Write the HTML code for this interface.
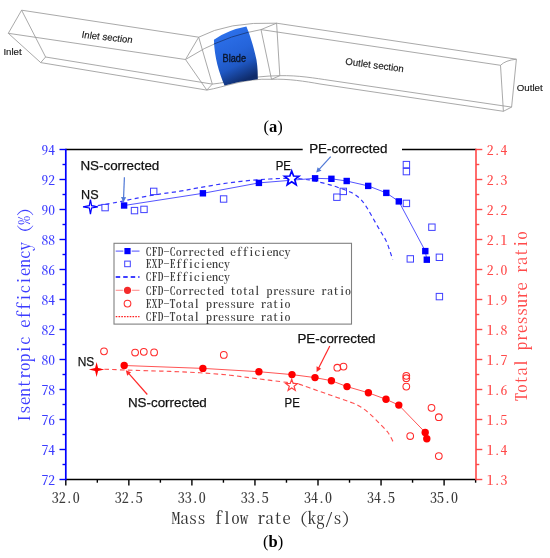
<!DOCTYPE html>
<html><head><meta charset="utf-8"><title>Figure</title>
<style>html,body{margin:0;padding:0;background:#fff;width:550px;height:558px;overflow:hidden}svg{display:block}</style>
</head><body>
<svg width="550" height="558" viewBox="0 0 550 558">
<rect width="550" height="558" fill="#fff"/>
<path d="M21.6,10.2 L8.3,33.3 M8.3,33.3 L40.7,62.6 M40.7,62.6 L45.6,57 M21.6,10.2 L45.6,57 M21.6,10.2 L198.7,37.2 M8.3,33.3 L185.5,59.5 M45.6,57 L212.3,84.1 M40.7,62.6 L206.8,90.1 M198.7,37.2 L185.5,59.5 M185.5,59.5 L206.8,90.1 M198.7,37.2 L212.3,84.1 M206.8,90.1 L212.3,84.1 M276.6,23.2 L261,29.6 M261,29.6 L271.5,79.3 M276.6,23.2 L279.8,75.7 M271.5,79.3 L279.8,75.7 M276.6,23.2 L516.4,59.2 M261,29.6 L500.5,65.3 M279.8,75.7 C298,75.2 315,78.2 330,80.4 L511.6,107.1 M271.5,79.3 C288,78.6 305,81.3 320,84 L503.4,111.3 M500.5,65.3 L503.4,111.3 M516.4,59.2 L511.6,107.1 M503.4,111.3 L511.6,107.1 M500.5,65.3 Q505.5,60.3 516.4,59.2 M198.7,37.2 Q228,21.5 276.6,23.2 M185.5,59.5 Q222.8,35.6 261,29.6 M206.8,90.1 C225,87 245,78 271.5,79.3 M212.3,84.1 C232,82 250,76 279.8,75.7" fill="none" stroke="#9a9a9a" stroke-width="0.85"/>
<defs><linearGradient id="bg" x1="0.1" y1="0" x2="0.45" y2="1"><stop offset="0" stop-color="#2f74f0"/><stop offset="0.5" stop-color="#2564da"/><stop offset="0.72" stop-color="#1f58c4"/><stop offset="1" stop-color="#0f2c6c"/></linearGradient></defs>
<path d="M213.9,39.7 Q228,30 246.4,26.6 C250,35 254,48 256.5,60 C257.8,68 257.8,74 257.8,79.3 Q240,81 224.5,85.4 C219,72 214.5,58 213.9,39.7Z" fill="url(#bg)"/>
<path d="M213.9,44 Q232,36 248.5,32.2" fill="none" stroke="#1a3c80" stroke-width="0.9"/>
<text x="234.3" y="61.6" font-family="Liberation Sans, sans-serif" font-size="10.2" text-anchor="middle" fill="#0a1428" stroke="#0a1428" stroke-width="0.35" textLength="23.4" lengthAdjust="spacingAndGlyphs">Blade</text>
<text x="3.4" y="54.9" font-family="Liberation Sans, sans-serif" font-size="9.7" fill="#1a1a1a" stroke="#1a1a1a" stroke-width="0.15">Inlet</text>
<text x="516.8" y="91.1" font-family="Liberation Sans, sans-serif" font-size="9.7" fill="#1a1a1a" stroke="#1a1a1a" stroke-width="0.15">Outlet</text>
<text transform="translate(81.2,37.6) rotate(6.2) skewX(-4)" font-family="Liberation Sans, sans-serif" font-size="9.6" fill="#1a1a1a" stroke="#1a1a1a" stroke-width="0.15">Inlet section</text>
<text transform="translate(345.0,64.6) rotate(7.3)" font-family="Liberation Sans, sans-serif" font-size="9.65" fill="#1a1a1a" stroke="#1a1a1a" stroke-width="0.15">Outlet section</text>
<text x="273" y="132.4" font-family="Liberation Serif, serif" font-size="16.5" text-anchor="middle" fill="#000">(<tspan font-weight="bold">a</tspan>)</text>
<text x="273.1" y="547" font-family="Liberation Serif, serif" font-size="16.5" text-anchor="middle" fill="#000">(<tspan font-weight="bold">b</tspan>)</text>
<line x1="65.8" y1="149.5" x2="302.7" y2="149.5" stroke="#000" stroke-width="1.5"/>
<line x1="402" y1="149.5" x2="476" y2="149.5" stroke="#000" stroke-width="1.5"/>
<line x1="65" y1="479.5" x2="476" y2="479.5" stroke="#000" stroke-width="1.6"/>
<line x1="65.8" y1="479.5" x2="65.8" y2="485.5" stroke="#000" stroke-width="1.4"/>
<text x="65.7" y="503.3" font-family="'Noto Serif CJK SC', serif" style="font-feature-settings:'hwid' 1,'liga' 0" font-size="14" font-weight="500" text-anchor="middle" fill="#3a3a3a">32.0</text>
<line x1="128.85" y1="479.5" x2="128.85" y2="485.5" stroke="#000" stroke-width="1.4"/>
<text x="128.75" y="503.3" font-family="'Noto Serif CJK SC', serif" style="font-feature-settings:'hwid' 1,'liga' 0" font-size="14" font-weight="500" text-anchor="middle" fill="#3a3a3a">32.5</text>
<line x1="191.9" y1="479.5" x2="191.9" y2="485.5" stroke="#000" stroke-width="1.4"/>
<text x="191.8" y="503.3" font-family="'Noto Serif CJK SC', serif" style="font-feature-settings:'hwid' 1,'liga' 0" font-size="14" font-weight="500" text-anchor="middle" fill="#3a3a3a">33.0</text>
<line x1="254.95" y1="479.5" x2="254.95" y2="485.5" stroke="#000" stroke-width="1.4"/>
<text x="254.85" y="503.3" font-family="'Noto Serif CJK SC', serif" style="font-feature-settings:'hwid' 1,'liga' 0" font-size="14" font-weight="500" text-anchor="middle" fill="#3a3a3a">33.5</text>
<line x1="318" y1="479.5" x2="318" y2="485.5" stroke="#000" stroke-width="1.4"/>
<text x="317.9" y="503.3" font-family="'Noto Serif CJK SC', serif" style="font-feature-settings:'hwid' 1,'liga' 0" font-size="14" font-weight="500" text-anchor="middle" fill="#3a3a3a">34.0</text>
<line x1="381.05" y1="479.5" x2="381.05" y2="485.5" stroke="#000" stroke-width="1.4"/>
<text x="380.95" y="503.3" font-family="'Noto Serif CJK SC', serif" style="font-feature-settings:'hwid' 1,'liga' 0" font-size="14" font-weight="500" text-anchor="middle" fill="#3a3a3a">34.5</text>
<line x1="444.1" y1="479.5" x2="444.1" y2="485.5" stroke="#000" stroke-width="1.4"/>
<text x="444" y="503.3" font-family="'Noto Serif CJK SC', serif" style="font-feature-settings:'hwid' 1,'liga' 0" font-size="14" font-weight="500" text-anchor="middle" fill="#3a3a3a">35.0</text>
<line x1="97.32" y1="479.5" x2="97.32" y2="482.7" stroke="#000" stroke-width="1.4"/>
<line x1="160.38" y1="479.5" x2="160.38" y2="482.7" stroke="#000" stroke-width="1.4"/>
<line x1="223.43" y1="479.5" x2="223.43" y2="482.7" stroke="#000" stroke-width="1.4"/>
<line x1="286.47" y1="479.5" x2="286.47" y2="482.7" stroke="#000" stroke-width="1.4"/>
<line x1="349.52" y1="479.5" x2="349.52" y2="482.7" stroke="#000" stroke-width="1.4"/>
<line x1="412.57" y1="479.5" x2="412.57" y2="482.7" stroke="#000" stroke-width="1.4"/>
<line x1="475.62" y1="479.5" x2="475.62" y2="482.7" stroke="#000" stroke-width="1.4"/>
<line x1="65.8" y1="148.7" x2="65.8" y2="480.3" stroke="#0000ff" stroke-width="1.7"/>
<line x1="59.5" y1="149.5" x2="65.8" y2="149.5" stroke="#0000ff" stroke-width="1.4"/>
<text x="55" y="155.1" font-family="'Noto Serif CJK SC', serif" style="font-feature-settings:'hwid' 1,'liga' 0" font-size="12.3" font-weight="500" text-anchor="end" fill="#3c3cff" textLength="13.6" lengthAdjust="spacingAndGlyphs">94</text>
<line x1="62.5" y1="164.5" x2="65.8" y2="164.5" stroke="#0000ff" stroke-width="1.4"/>
<line x1="59.5" y1="179.5" x2="65.8" y2="179.5" stroke="#0000ff" stroke-width="1.4"/>
<text x="55" y="185.1" font-family="'Noto Serif CJK SC', serif" style="font-feature-settings:'hwid' 1,'liga' 0" font-size="12.3" font-weight="500" text-anchor="end" fill="#3c3cff" textLength="13.6" lengthAdjust="spacingAndGlyphs">92</text>
<line x1="62.5" y1="194.5" x2="65.8" y2="194.5" stroke="#0000ff" stroke-width="1.4"/>
<line x1="59.5" y1="209.5" x2="65.8" y2="209.5" stroke="#0000ff" stroke-width="1.4"/>
<text x="55" y="215.1" font-family="'Noto Serif CJK SC', serif" style="font-feature-settings:'hwid' 1,'liga' 0" font-size="12.3" font-weight="500" text-anchor="end" fill="#3c3cff" textLength="13.6" lengthAdjust="spacingAndGlyphs">90</text>
<line x1="62.5" y1="224.5" x2="65.8" y2="224.5" stroke="#0000ff" stroke-width="1.4"/>
<line x1="59.5" y1="239.5" x2="65.8" y2="239.5" stroke="#0000ff" stroke-width="1.4"/>
<text x="55" y="245.1" font-family="'Noto Serif CJK SC', serif" style="font-feature-settings:'hwid' 1,'liga' 0" font-size="12.3" font-weight="500" text-anchor="end" fill="#3c3cff" textLength="13.6" lengthAdjust="spacingAndGlyphs">88</text>
<line x1="62.5" y1="254.5" x2="65.8" y2="254.5" stroke="#0000ff" stroke-width="1.4"/>
<line x1="59.5" y1="269.5" x2="65.8" y2="269.5" stroke="#0000ff" stroke-width="1.4"/>
<text x="55" y="275.1" font-family="'Noto Serif CJK SC', serif" style="font-feature-settings:'hwid' 1,'liga' 0" font-size="12.3" font-weight="500" text-anchor="end" fill="#3c3cff" textLength="13.6" lengthAdjust="spacingAndGlyphs">86</text>
<line x1="62.5" y1="284.5" x2="65.8" y2="284.5" stroke="#0000ff" stroke-width="1.4"/>
<line x1="59.5" y1="299.5" x2="65.8" y2="299.5" stroke="#0000ff" stroke-width="1.4"/>
<text x="55" y="305.1" font-family="'Noto Serif CJK SC', serif" style="font-feature-settings:'hwid' 1,'liga' 0" font-size="12.3" font-weight="500" text-anchor="end" fill="#3c3cff" textLength="13.6" lengthAdjust="spacingAndGlyphs">84</text>
<line x1="62.5" y1="314.5" x2="65.8" y2="314.5" stroke="#0000ff" stroke-width="1.4"/>
<line x1="59.5" y1="329.5" x2="65.8" y2="329.5" stroke="#0000ff" stroke-width="1.4"/>
<text x="55" y="335.1" font-family="'Noto Serif CJK SC', serif" style="font-feature-settings:'hwid' 1,'liga' 0" font-size="12.3" font-weight="500" text-anchor="end" fill="#3c3cff" textLength="13.6" lengthAdjust="spacingAndGlyphs">82</text>
<line x1="62.5" y1="344.5" x2="65.8" y2="344.5" stroke="#0000ff" stroke-width="1.4"/>
<line x1="59.5" y1="359.5" x2="65.8" y2="359.5" stroke="#0000ff" stroke-width="1.4"/>
<text x="55" y="365.1" font-family="'Noto Serif CJK SC', serif" style="font-feature-settings:'hwid' 1,'liga' 0" font-size="12.3" font-weight="500" text-anchor="end" fill="#3c3cff" textLength="13.6" lengthAdjust="spacingAndGlyphs">80</text>
<line x1="62.5" y1="374.5" x2="65.8" y2="374.5" stroke="#0000ff" stroke-width="1.4"/>
<line x1="59.5" y1="389.5" x2="65.8" y2="389.5" stroke="#0000ff" stroke-width="1.4"/>
<text x="55" y="395.1" font-family="'Noto Serif CJK SC', serif" style="font-feature-settings:'hwid' 1,'liga' 0" font-size="12.3" font-weight="500" text-anchor="end" fill="#3c3cff" textLength="13.6" lengthAdjust="spacingAndGlyphs">78</text>
<line x1="62.5" y1="404.5" x2="65.8" y2="404.5" stroke="#0000ff" stroke-width="1.4"/>
<line x1="59.5" y1="419.5" x2="65.8" y2="419.5" stroke="#0000ff" stroke-width="1.4"/>
<text x="55" y="425.1" font-family="'Noto Serif CJK SC', serif" style="font-feature-settings:'hwid' 1,'liga' 0" font-size="12.3" font-weight="500" text-anchor="end" fill="#3c3cff" textLength="13.6" lengthAdjust="spacingAndGlyphs">76</text>
<line x1="62.5" y1="434.5" x2="65.8" y2="434.5" stroke="#0000ff" stroke-width="1.4"/>
<line x1="59.5" y1="449.5" x2="65.8" y2="449.5" stroke="#0000ff" stroke-width="1.4"/>
<text x="55" y="455.1" font-family="'Noto Serif CJK SC', serif" style="font-feature-settings:'hwid' 1,'liga' 0" font-size="12.3" font-weight="500" text-anchor="end" fill="#3c3cff" textLength="13.6" lengthAdjust="spacingAndGlyphs">74</text>
<line x1="62.5" y1="464.5" x2="65.8" y2="464.5" stroke="#0000ff" stroke-width="1.4"/>
<line x1="59.5" y1="479.5" x2="65.8" y2="479.5" stroke="#0000ff" stroke-width="1.4"/>
<text x="55" y="485.1" font-family="'Noto Serif CJK SC', serif" style="font-feature-settings:'hwid' 1,'liga' 0" font-size="12.3" font-weight="500" text-anchor="end" fill="#3c3cff" textLength="13.6" lengthAdjust="spacingAndGlyphs">72</text>
<line x1="476" y1="148.7" x2="476" y2="480.3" stroke="#ff4848" stroke-width="1.6"/>
<line x1="476" y1="149.5" x2="482.3" y2="149.5" stroke="#ff4848" stroke-width="1.4"/>
<text x="486.8" y="155.4" font-family="'Noto Serif CJK SC', serif" style="font-feature-settings:'hwid' 1,'liga' 0" font-size="12.8" font-weight="500" fill="#ff4a4a" textLength="20.6" lengthAdjust="spacingAndGlyphs">2.4</text>
<line x1="476" y1="164.5" x2="479.3" y2="164.5" stroke="#ff4848" stroke-width="1.4"/>
<line x1="476" y1="179.5" x2="482.3" y2="179.5" stroke="#ff4848" stroke-width="1.4"/>
<text x="486.8" y="185.4" font-family="'Noto Serif CJK SC', serif" style="font-feature-settings:'hwid' 1,'liga' 0" font-size="12.8" font-weight="500" fill="#ff4a4a" textLength="20.6" lengthAdjust="spacingAndGlyphs">2.3</text>
<line x1="476" y1="194.5" x2="479.3" y2="194.5" stroke="#ff4848" stroke-width="1.4"/>
<line x1="476" y1="209.5" x2="482.3" y2="209.5" stroke="#ff4848" stroke-width="1.4"/>
<text x="486.8" y="215.4" font-family="'Noto Serif CJK SC', serif" style="font-feature-settings:'hwid' 1,'liga' 0" font-size="12.8" font-weight="500" fill="#ff4a4a" textLength="20.6" lengthAdjust="spacingAndGlyphs">2.2</text>
<line x1="476" y1="224.5" x2="479.3" y2="224.5" stroke="#ff4848" stroke-width="1.4"/>
<line x1="476" y1="239.5" x2="482.3" y2="239.5" stroke="#ff4848" stroke-width="1.4"/>
<text x="486.8" y="245.4" font-family="'Noto Serif CJK SC', serif" style="font-feature-settings:'hwid' 1,'liga' 0" font-size="12.8" font-weight="500" fill="#ff4a4a" textLength="20.6" lengthAdjust="spacingAndGlyphs">2.1</text>
<line x1="476" y1="254.5" x2="479.3" y2="254.5" stroke="#ff4848" stroke-width="1.4"/>
<line x1="476" y1="269.5" x2="482.3" y2="269.5" stroke="#ff4848" stroke-width="1.4"/>
<text x="486.8" y="275.4" font-family="'Noto Serif CJK SC', serif" style="font-feature-settings:'hwid' 1,'liga' 0" font-size="12.8" font-weight="500" fill="#ff4a4a" textLength="20.6" lengthAdjust="spacingAndGlyphs">2.0</text>
<line x1="476" y1="284.5" x2="479.3" y2="284.5" stroke="#ff4848" stroke-width="1.4"/>
<line x1="476" y1="299.5" x2="482.3" y2="299.5" stroke="#ff4848" stroke-width="1.4"/>
<text x="486.8" y="305.4" font-family="'Noto Serif CJK SC', serif" style="font-feature-settings:'hwid' 1,'liga' 0" font-size="12.8" font-weight="500" fill="#ff4a4a" textLength="20.6" lengthAdjust="spacingAndGlyphs">1.9</text>
<line x1="476" y1="314.5" x2="479.3" y2="314.5" stroke="#ff4848" stroke-width="1.4"/>
<line x1="476" y1="329.5" x2="482.3" y2="329.5" stroke="#ff4848" stroke-width="1.4"/>
<text x="486.8" y="335.4" font-family="'Noto Serif CJK SC', serif" style="font-feature-settings:'hwid' 1,'liga' 0" font-size="12.8" font-weight="500" fill="#ff4a4a" textLength="20.6" lengthAdjust="spacingAndGlyphs">1.8</text>
<line x1="476" y1="344.5" x2="479.3" y2="344.5" stroke="#ff4848" stroke-width="1.4"/>
<line x1="476" y1="359.5" x2="482.3" y2="359.5" stroke="#ff4848" stroke-width="1.4"/>
<text x="486.8" y="365.4" font-family="'Noto Serif CJK SC', serif" style="font-feature-settings:'hwid' 1,'liga' 0" font-size="12.8" font-weight="500" fill="#ff4a4a" textLength="20.6" lengthAdjust="spacingAndGlyphs">1.7</text>
<line x1="476" y1="374.5" x2="479.3" y2="374.5" stroke="#ff4848" stroke-width="1.4"/>
<line x1="476" y1="389.5" x2="482.3" y2="389.5" stroke="#ff4848" stroke-width="1.4"/>
<text x="486.8" y="395.4" font-family="'Noto Serif CJK SC', serif" style="font-feature-settings:'hwid' 1,'liga' 0" font-size="12.8" font-weight="500" fill="#ff4a4a" textLength="20.6" lengthAdjust="spacingAndGlyphs">1.6</text>
<line x1="476" y1="404.5" x2="479.3" y2="404.5" stroke="#ff4848" stroke-width="1.4"/>
<line x1="476" y1="419.5" x2="482.3" y2="419.5" stroke="#ff4848" stroke-width="1.4"/>
<text x="486.8" y="425.4" font-family="'Noto Serif CJK SC', serif" style="font-feature-settings:'hwid' 1,'liga' 0" font-size="12.8" font-weight="500" fill="#ff4a4a" textLength="20.6" lengthAdjust="spacingAndGlyphs">1.5</text>
<line x1="476" y1="434.5" x2="479.3" y2="434.5" stroke="#ff4848" stroke-width="1.4"/>
<line x1="476" y1="449.5" x2="482.3" y2="449.5" stroke="#ff4848" stroke-width="1.4"/>
<text x="486.8" y="455.4" font-family="'Noto Serif CJK SC', serif" style="font-feature-settings:'hwid' 1,'liga' 0" font-size="12.8" font-weight="500" fill="#ff4a4a" textLength="20.6" lengthAdjust="spacingAndGlyphs">1.4</text>
<line x1="476" y1="464.5" x2="479.3" y2="464.5" stroke="#ff4848" stroke-width="1.4"/>
<line x1="476" y1="479.5" x2="482.3" y2="479.5" stroke="#ff4848" stroke-width="1.4"/>
<text x="486.8" y="485.4" font-family="'Noto Serif CJK SC', serif" style="font-feature-settings:'hwid' 1,'liga' 0" font-size="12.8" font-weight="500" fill="#ff4a4a" textLength="20.6" lengthAdjust="spacingAndGlyphs">1.3</text>
<text x="261" y="524.3" font-family="'Noto Serif CJK SC', serif" style="font-feature-settings:'hwid' 1,'liga' 0" font-size="15.6" text-anchor="middle" fill="#333" textLength="178.5" lengthAdjust="spacingAndGlyphs">Mass flow rate (kg/s)</text>
<text transform="translate(29.6,315) rotate(-90)" font-family="'Noto Serif CJK SC', serif" style="font-feature-settings:'hwid' 1,'liga' 0" font-size="15.6" text-anchor="middle" fill="#3c3cff" textLength="215" lengthAdjust="spacingAndGlyphs">Isentropic efficiency (%)</text>
<text transform="translate(527,316.2) rotate(-90)" font-family="'Noto Serif CJK SC', serif" style="font-feature-settings:'hwid' 1,'liga' 0" font-size="15.6" text-anchor="middle" fill="#ff4a4a" textLength="170" lengthAdjust="spacingAndGlyphs">Total pressure ratio</text>
<path d="M90.5,206.8 C94.82,206.07 109.07,203.77 116.4,202.4 C123.73,201.03 127.53,199.95 134.5,198.6 C141.47,197.25 150.62,195.53 158.2,194.3 C165.78,193.07 173.27,192.28 180,191.2 C186.73,190.12 191.55,189.03 198.6,187.8 C205.65,186.57 214.42,184.97 222.3,183.8 C230.18,182.63 238.02,181.6 245.9,180.8 C253.78,180 261.97,179.42 269.6,179 C277.23,178.58 285.12,178.15 291.7,178.3 C298.28,178.45 304.68,179.32 309.1,179.9 C313.52,180.48 314.87,181.02 318.2,181.8 C321.53,182.58 325.77,183.65 329.1,184.6 C332.43,185.55 334.57,186.22 338.2,187.5 C341.83,188.78 347.27,190.45 350.9,192.3 C354.53,194.15 357.42,196.18 360,198.6 C362.58,201.02 364.28,203.62 366.4,206.8 C368.52,209.98 370.43,213.75 372.7,217.7 C374.97,221.65 377.72,226.55 380,230.5 C382.28,234.45 384.28,236.57 386.4,241.4 C388.52,246.23 391.65,256.48 392.7,259.5" fill="none" stroke="#3535ff" stroke-width="1.2" stroke-dasharray="4.2 3.3"/>
<path d="M124.1,205.5 L202.9,193.3 L258.9,182.9 L315.1,178.3 L331.4,178.8 L346.7,181 L368.2,185.9 L386.3,192.9 L398.8,201.4 L425.3,251.1 L426.8,259.7" fill="none" stroke="#5555ff" stroke-width="1"/>
<path d="M96.6,369.4 C97.92,369.38 97.27,369.12 104.5,369.3 C111.73,369.48 129.08,370.15 140,370.5 C150.92,370.85 160,371.02 170,371.4 C180,371.78 190,372.17 200,372.8 C210,373.43 220.6,374.23 230,375.2 C239.4,376.17 246.92,377.4 256.4,378.6 C265.88,379.8 279.97,381.5 286.9,382.4 C293.83,383.3 294.15,383.07 298,384 C301.85,384.93 304.67,386.17 310,388 C315.33,389.83 323.33,392.67 330,395 C336.67,397.33 345,400.1 350,402 C355,403.9 356.67,404.4 360,406.4 C363.33,408.4 366.67,411.07 370,414 C373.33,416.93 377,420.92 380,424 C383,427.08 385.83,429.58 388,432.5 C390.17,435.42 392.17,440 393,441.5" fill="none" stroke="#ff5050" stroke-width="1.15" stroke-dasharray="4.6 3.2"/>
<path d="M124.2,365.5 L202.9,368.4 L258.9,371.7 L292,374.6 L315,377.6 L331.4,380.7 L347,386.6 L368.4,392.8 L386,399.3 L398.8,405.1 L425.2,432.4 L426.8,438.8" fill="none" stroke="#ff5555" stroke-width="1"/>
<rect x="101.9" y="204.4" width="6.4" height="6.4" fill="none" stroke="#4040ff" stroke-width="1.0"/>
<rect x="131.3" y="207.4" width="6.4" height="6.4" fill="none" stroke="#4040ff" stroke-width="1.0"/>
<rect x="140.8" y="206.2" width="6.4" height="6.4" fill="none" stroke="#4040ff" stroke-width="1.0"/>
<rect x="150.5" y="188.2" width="6.4" height="6.4" fill="none" stroke="#4040ff" stroke-width="1.0"/>
<rect x="220.4" y="195.8" width="6.4" height="6.4" fill="none" stroke="#4040ff" stroke-width="1.0"/>
<rect x="333.7" y="194" width="6.4" height="6.4" fill="none" stroke="#4040ff" stroke-width="1.0"/>
<rect x="340.1" y="188.2" width="6.4" height="6.4" fill="none" stroke="#4040ff" stroke-width="1.0"/>
<rect x="403.2" y="161.4" width="6.4" height="6.4" fill="none" stroke="#4040ff" stroke-width="1.0"/>
<rect x="403.2" y="168.4" width="6.4" height="6.4" fill="none" stroke="#4040ff" stroke-width="1.0"/>
<rect x="403.2" y="200.2" width="6.4" height="6.4" fill="none" stroke="#4040ff" stroke-width="1.0"/>
<rect x="407.1" y="255.7" width="6.4" height="6.4" fill="none" stroke="#4040ff" stroke-width="1.0"/>
<rect x="428.7" y="224" width="6.4" height="6.4" fill="none" stroke="#4040ff" stroke-width="1.0"/>
<rect x="436.2" y="254.1" width="6.4" height="6.4" fill="none" stroke="#4040ff" stroke-width="1.0"/>
<rect x="436.2" y="293.4" width="6.4" height="6.4" fill="none" stroke="#4040ff" stroke-width="1.0"/>
<rect x="120.9" y="202.3" width="6.4" height="6.4" fill="#0000ff"/>
<rect x="199.7" y="190.1" width="6.4" height="6.4" fill="#0000ff"/>
<rect x="255.7" y="179.7" width="6.4" height="6.4" fill="#0000ff"/>
<rect x="311.9" y="175.1" width="6.4" height="6.4" fill="#0000ff"/>
<rect x="328.2" y="175.6" width="6.4" height="6.4" fill="#0000ff"/>
<rect x="343.5" y="177.8" width="6.4" height="6.4" fill="#0000ff"/>
<rect x="365" y="182.7" width="6.4" height="6.4" fill="#0000ff"/>
<rect x="383.1" y="189.7" width="6.4" height="6.4" fill="#0000ff"/>
<rect x="395.6" y="198.2" width="6.4" height="6.4" fill="#0000ff"/>
<rect x="422.1" y="247.9" width="6.4" height="6.4" fill="#0000ff"/>
<rect x="423.6" y="256.5" width="6.4" height="6.4" fill="#0000ff"/>
<circle cx="104" cy="351.3" r="3.35" fill="none" stroke="#ff2a2a" stroke-width="1.05"/>
<circle cx="135.1" cy="352.5" r="3.35" fill="none" stroke="#ff2a2a" stroke-width="1.05"/>
<circle cx="143.8" cy="351.8" r="3.35" fill="none" stroke="#ff2a2a" stroke-width="1.05"/>
<circle cx="154.1" cy="352.4" r="3.35" fill="none" stroke="#ff2a2a" stroke-width="1.05"/>
<circle cx="223.8" cy="354.9" r="3.35" fill="none" stroke="#ff2a2a" stroke-width="1.05"/>
<circle cx="337.3" cy="367.7" r="3.35" fill="none" stroke="#ff2a2a" stroke-width="1.05"/>
<circle cx="343.5" cy="366.6" r="3.35" fill="none" stroke="#ff2a2a" stroke-width="1.05"/>
<circle cx="406.3" cy="375.8" r="3.35" fill="none" stroke="#ff2a2a" stroke-width="1.05"/>
<circle cx="406.3" cy="378.2" r="3.35" fill="none" stroke="#ff2a2a" stroke-width="1.05"/>
<circle cx="406.3" cy="386.6" r="3.35" fill="none" stroke="#ff2a2a" stroke-width="1.05"/>
<circle cx="431.5" cy="407.8" r="3.35" fill="none" stroke="#ff2a2a" stroke-width="1.05"/>
<circle cx="438.8" cy="417.2" r="3.35" fill="none" stroke="#ff2a2a" stroke-width="1.05"/>
<circle cx="410.2" cy="436" r="3.35" fill="none" stroke="#ff2a2a" stroke-width="1.05"/>
<circle cx="438.8" cy="456.1" r="3.35" fill="none" stroke="#ff2a2a" stroke-width="1.05"/>
<circle cx="124.2" cy="365.5" r="3.7" fill="#ff0000"/>
<circle cx="202.9" cy="368.4" r="3.7" fill="#ff0000"/>
<circle cx="258.9" cy="371.7" r="3.7" fill="#ff0000"/>
<circle cx="292" cy="374.6" r="3.7" fill="#ff0000"/>
<circle cx="315" cy="377.6" r="3.7" fill="#ff0000"/>
<circle cx="331.4" cy="380.7" r="3.7" fill="#ff0000"/>
<circle cx="347" cy="386.6" r="3.7" fill="#ff0000"/>
<circle cx="368.4" cy="392.8" r="3.7" fill="#ff0000"/>
<circle cx="386" cy="399.3" r="3.7" fill="#ff0000"/>
<circle cx="398.8" cy="405.1" r="3.7" fill="#ff0000"/>
<circle cx="425.2" cy="432.4" r="3.7" fill="#ff0000"/>
<circle cx="426.8" cy="438.8" r="3.7" fill="#ff0000"/>
<path d="M90.45,199.5 L91.58,205.67 L97.85,206.8 L91.58,207.93 L90.45,214.1 L89.32,207.93 L83.05,206.8 L89.32,205.67Z" fill="#fff" stroke="#0000ff" stroke-width="1.25" stroke-linejoin="miter"/>
<path d="M291.7,171 L293.58,176.01 L298.93,176.25 L294.74,179.59 L296.17,184.75 L291.7,181.8 L287.23,184.75 L288.66,179.59 L284.47,176.25 L289.82,176.01Z" fill="#fff" stroke="#0000ff" stroke-width="1.7"/>
<path d="M96.6,361.9 L98.08,368.02 L104.4,369.5 L98.08,370.98 L96.6,377.1 L95.12,370.98 L88.8,369.5 L95.12,368.02Z" fill="#ff0000"/>
<path d="M291.7,379.3 L293.17,383.38 L297.5,383.51 L294.08,386.17 L295.29,390.34 L291.7,387.9 L288.11,390.34 L289.32,386.17 L285.9,383.51 L290.23,383.38Z" fill="#fff" stroke="#ff4040" stroke-width="1.2"/>
<text x="80.4" y="169.8" font-family="'Liberation Sans', sans-serif" font-size="13.4" fill="#111" stroke="#111" stroke-width="0.25">NS-corrected</text>
<text x="81.1" y="199" font-family="'Liberation Sans', sans-serif" font-size="13.4" fill="#111" stroke="#111" stroke-width="0.25" textLength="17.5" lengthAdjust="spacingAndGlyphs">NS</text>
<rect x="303.5" y="142" width="98" height="14" fill="#fff"/>
<text x="309.2" y="152.8" font-family="'Liberation Sans', sans-serif" font-size="13.4" fill="#111" stroke="#111" stroke-width="0.25">PE-corrected</text>
<text x="275.7" y="169.9" font-family="'Liberation Sans', sans-serif" font-size="13.4" fill="#111" stroke="#111" stroke-width="0.25" textLength="15.3" lengthAdjust="spacingAndGlyphs">PE</text>
<text x="77.7" y="365.6" font-family="'Liberation Sans', sans-serif" font-size="13.4" fill="#111" stroke="#111" stroke-width="0.25" textLength="16.6" lengthAdjust="spacingAndGlyphs">NS</text>
<text x="127.9" y="406.8" font-family="'Liberation Sans', sans-serif" font-size="13.4" fill="#111" stroke="#111" stroke-width="0.25">NS-corrected</text>
<text x="297.4" y="342.5" font-family="'Liberation Sans', sans-serif" font-size="13.4" fill="#111" stroke="#111" stroke-width="0.25">PE-corrected</text>
<text x="284.6" y="406.5" font-family="'Liberation Sans', sans-serif" font-size="13.4" fill="#111" stroke="#111" stroke-width="0.25" textLength="15.3" lengthAdjust="spacingAndGlyphs">PE</text>
<line x1="124.4" y1="177.2" x2="123.56" y2="198.2" stroke="#4f78d6" stroke-width="1.2"/>
<path d="M123.4,202.2 L121,197.1 L126.2,197.31 Z" fill="#4f78d6"/>
<line x1="330.7" y1="156.6" x2="318.89" y2="169.64" stroke="#4f78d6" stroke-width="1.2"/>
<path d="M316.2,172.6 L317.63,167.15 L321.48,170.64 Z" fill="#4f78d6"/>
<line x1="147.3" y1="394.5" x2="128.45" y2="373.2" stroke="#ff2a2a" stroke-width="1.2"/>
<path d="M125.8,370.2 L131.06,372.22 L127.17,375.67 Z" fill="#ff2a2a"/>
<line x1="329.8" y1="345.9" x2="318.41" y2="368.43" stroke="#ff2a2a" stroke-width="1.2"/>
<path d="M316.6,372 L316.54,366.36 L321.18,368.71 Z" fill="#ff2a2a"/>
<rect x="114" y="243.3" width="237.5" height="80.8" fill="#fff" stroke="#808080" stroke-width="1.1"/>
<line x1="115.7" y1="251.1" x2="123.3" y2="251.1" stroke="#4d4dff" stroke-width="1.0"/>
<line x1="131.7" y1="251.1" x2="139.5" y2="251.1" stroke="#4d4dff" stroke-width="1.0"/>
<rect x="124.4" y="248" width="6.2" height="6.2" fill="#0000ff"/>
<rect x="124.7" y="261.1" width="5.6" height="5.6" fill="none" stroke="#4040ff" stroke-width="1.0"/>
<line x1="115.7" y1="277" x2="139.5" y2="277" stroke="#0000ff" stroke-width="1.3" stroke-dasharray="4.5 3"/>
<line x1="115.7" y1="290.3" x2="122.9" y2="290.3" stroke="#ff9090" stroke-width="1.1"/>
<line x1="132.1" y1="290.3" x2="139.5" y2="290.3" stroke="#ff9090" stroke-width="1.1"/>
<circle cx="127.5" cy="290.3" r="3.6" fill="#f42a2a"/>
<circle cx="127.5" cy="303.6" r="3.35" fill="none" stroke="#ff2a2a" stroke-width="1.05"/>
<line x1="115.7" y1="316.6" x2="139.5" y2="316.6" stroke="#ff2020" stroke-width="1.1" stroke-dasharray="1.6 1.2"/>
<text x="145.4" y="255.5" font-family="'Noto Serif CJK SC', serif" style="font-feature-settings:'hwid' 1,'liga' 0" font-size="11.2" font-weight="500" fill="#3a3a3a" textLength="145.2" lengthAdjust="spacingAndGlyphs">CFD-Corrected efficiency</text>
<text x="145.4" y="268.3" font-family="'Noto Serif CJK SC', serif" style="font-feature-settings:'hwid' 1,'liga' 0" font-size="11.2" font-weight="500" fill="#3a3a3a" textLength="84.7" lengthAdjust="spacingAndGlyphs">EXP-Efficiency</text>
<text x="145.4" y="281.4" font-family="'Noto Serif CJK SC', serif" style="font-feature-settings:'hwid' 1,'liga' 0" font-size="11.2" font-weight="500" fill="#3a3a3a" textLength="84.7" lengthAdjust="spacingAndGlyphs">CFD-Efficiency</text>
<text x="145.4" y="294.7" font-family="'Noto Serif CJK SC', serif" style="font-feature-settings:'hwid' 1,'liga' 0" font-size="11.2" font-weight="500" fill="#3a3a3a" textLength="205.7" lengthAdjust="spacingAndGlyphs">CFD-Corrected total pressure ratio</text>
<text x="145.4" y="308" font-family="'Noto Serif CJK SC', serif" style="font-feature-settings:'hwid' 1,'liga' 0" font-size="11.2" font-weight="500" fill="#3a3a3a" textLength="145.2" lengthAdjust="spacingAndGlyphs">EXP-Total pressure ratio</text>
<text x="145.4" y="321" font-family="'Noto Serif CJK SC', serif" style="font-feature-settings:'hwid' 1,'liga' 0" font-size="11.2" font-weight="500" fill="#3a3a3a" textLength="145.2" lengthAdjust="spacingAndGlyphs">CFD-Total pressure ratio</text>
</svg>
</body></html>
